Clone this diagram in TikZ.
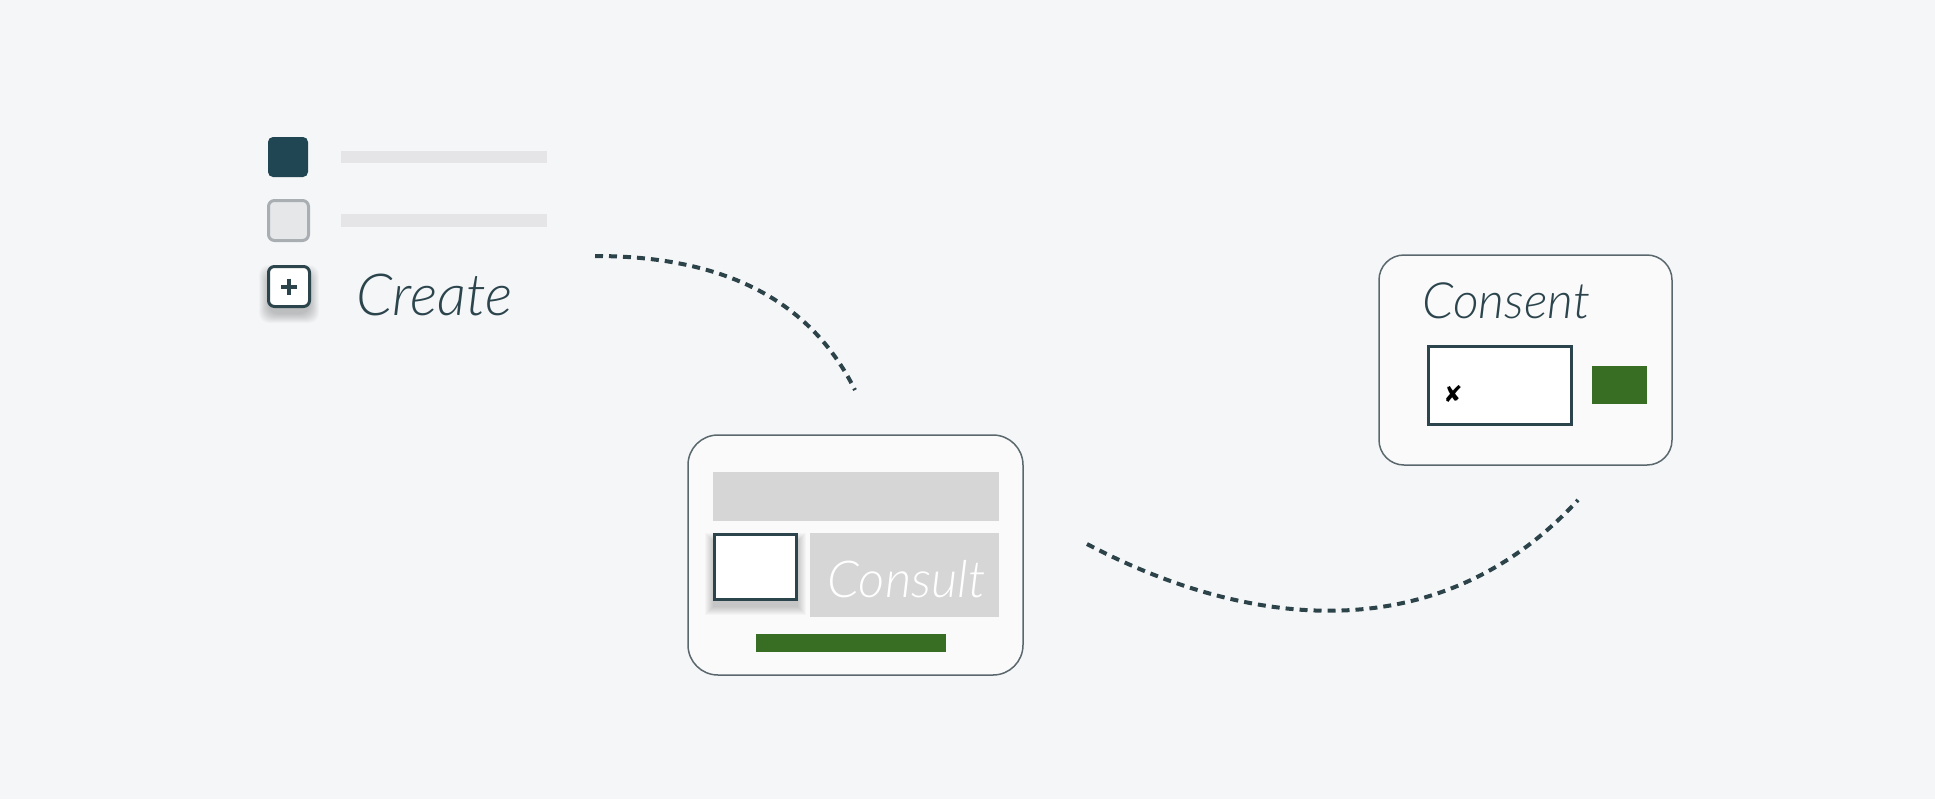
\documentclass[tikz,border=0pt]{standalone}
\usepackage{fontspec}
\setmainfont{Lato}
\newfontfamily\lightit{Lato-LightItalic.ttf}
\newfontfamily\symfont{DejaVu Sans}
\definecolor{bgcol}{HTML}{F5F6F8}
\definecolor{darkteal}{HTML}{1F4652}
\definecolor{inkcol}{HTML}{2C454D}
\definecolor{barcol}{HTML}{E5E5E7}
\definecolor{lightsq}{HTML}{E6E7E9}
\definecolor{lightsqb}{HTML}{A9AEB2}
\definecolor{cardline}{HTML}{5A686E}
\definecolor{cardfill}{HTML}{FAFAFA}
\definecolor{graybox}{HTML}{D6D6D6}
\definecolor{greencol}{HTML}{386E23}
\definecolor{dashcol}{HTML}{2C434A}
\tikzset{
  card/.style={draw=cardline, line width=0.75pt, fill=cardfill},
  darkframe/.style={draw=inkcol, line width=1.5pt, fill=white},
  dashlink/.style={draw=dashcol, line width=2pt, dash pattern=on 4pt off 3pt},
  label/.style={inner sep=0pt, text=inkcol},
}
\begin{document}
\begin{tikzpicture}[x=0.5pt,y=-0.5pt]
\fill[bgcol] (0,0) rectangle (1935,799);
\useasboundingbox (0,0) rectangle (1935,799);

% --- Create list ---
\fill[darkteal, rounded corners=2.5pt] (268,137) rectangle (308,177);
\coordinate (sq1) at (288,157);
\fill[barcol] (341,151) rectangle (547,163);
\draw[fill=lightsq, draw=lightsqb, line width=1.5pt, rounded corners=3pt] (268.5,200.5) rectangle (308.5,240.5);
\fill[barcol] (341,214) rectangle (547,227);
% shadow of plus box
\foreach \i in {1,...,10}{
  \fill[black, opacity=0.025, rounded corners=5pt] (269-\i,275-\i) rectangle (309+\i,313+\i);
}
\draw[darkframe, rounded corners=3pt] (268.5,266.5) rectangle (309.5,306.5);
\node (plusbox) at (289,286.5) {};
\draw[inkcol, line width=2pt] (281,286.5) -- (297,286.5) (289,278.5) -- (289,294.5);
\node[label, anchor=base west, font=\lightit\fontsize{29}{34}\selectfont] (create) at (356,315) {Create};

% --- Consult card ---
\draw[card, rounded corners=15pt] (688,435) rectangle (1023,675);
\fill[graybox] (713,472) rectangle (999,521);
\foreach \i in {1,...,9}{
  \fill[black, opacity=0.025] (714-\i,542-\i) rectangle (797+\i,606+\i);
}
\draw[darkframe] (714.5,534.5) rectangle (796.5,599.5);
\fill[graybox] (810,533) rectangle (999,617);
\node[inner sep=0pt, anchor=base west, text=white, font=\lightit\fontsize{25.5}{30}\selectfont] (consult) at (827,597) {Consult};
\fill[greencol] (756,634) rectangle (946,652);

% --- Consent card ---
\draw[card, rounded corners=12.5pt] (1379,255) rectangle (1672,465);
\node[label, anchor=base west, font=\lightit\fontsize{25}{29}\selectfont] (consent) at (1422,318) {Consent};
\draw[darkframe] (1428.5,346.5) rectangle (1571.5,424.5);
\node[inner sep=0pt, text=black, font=\symfont\fontsize{11.5}{13}\selectfont] (xmark) at (1453,394) {✘};
\fill[greencol] (1592,366) rectangle (1647,404);

% --- connectors ---
\coordinate (a1) at (595,256);
\coordinate (a2) at (855,390);
\coordinate (b1) at (1087,544);
\coordinate (b2) at (1578,500);
\draw[dashlink] (a1) .. controls (750,256) and (820,320) .. (a2);
\draw[dashlink] (b1) .. controls (1250,630) and (1440,650) .. (b2);
\end{tikzpicture}
\end{document}
